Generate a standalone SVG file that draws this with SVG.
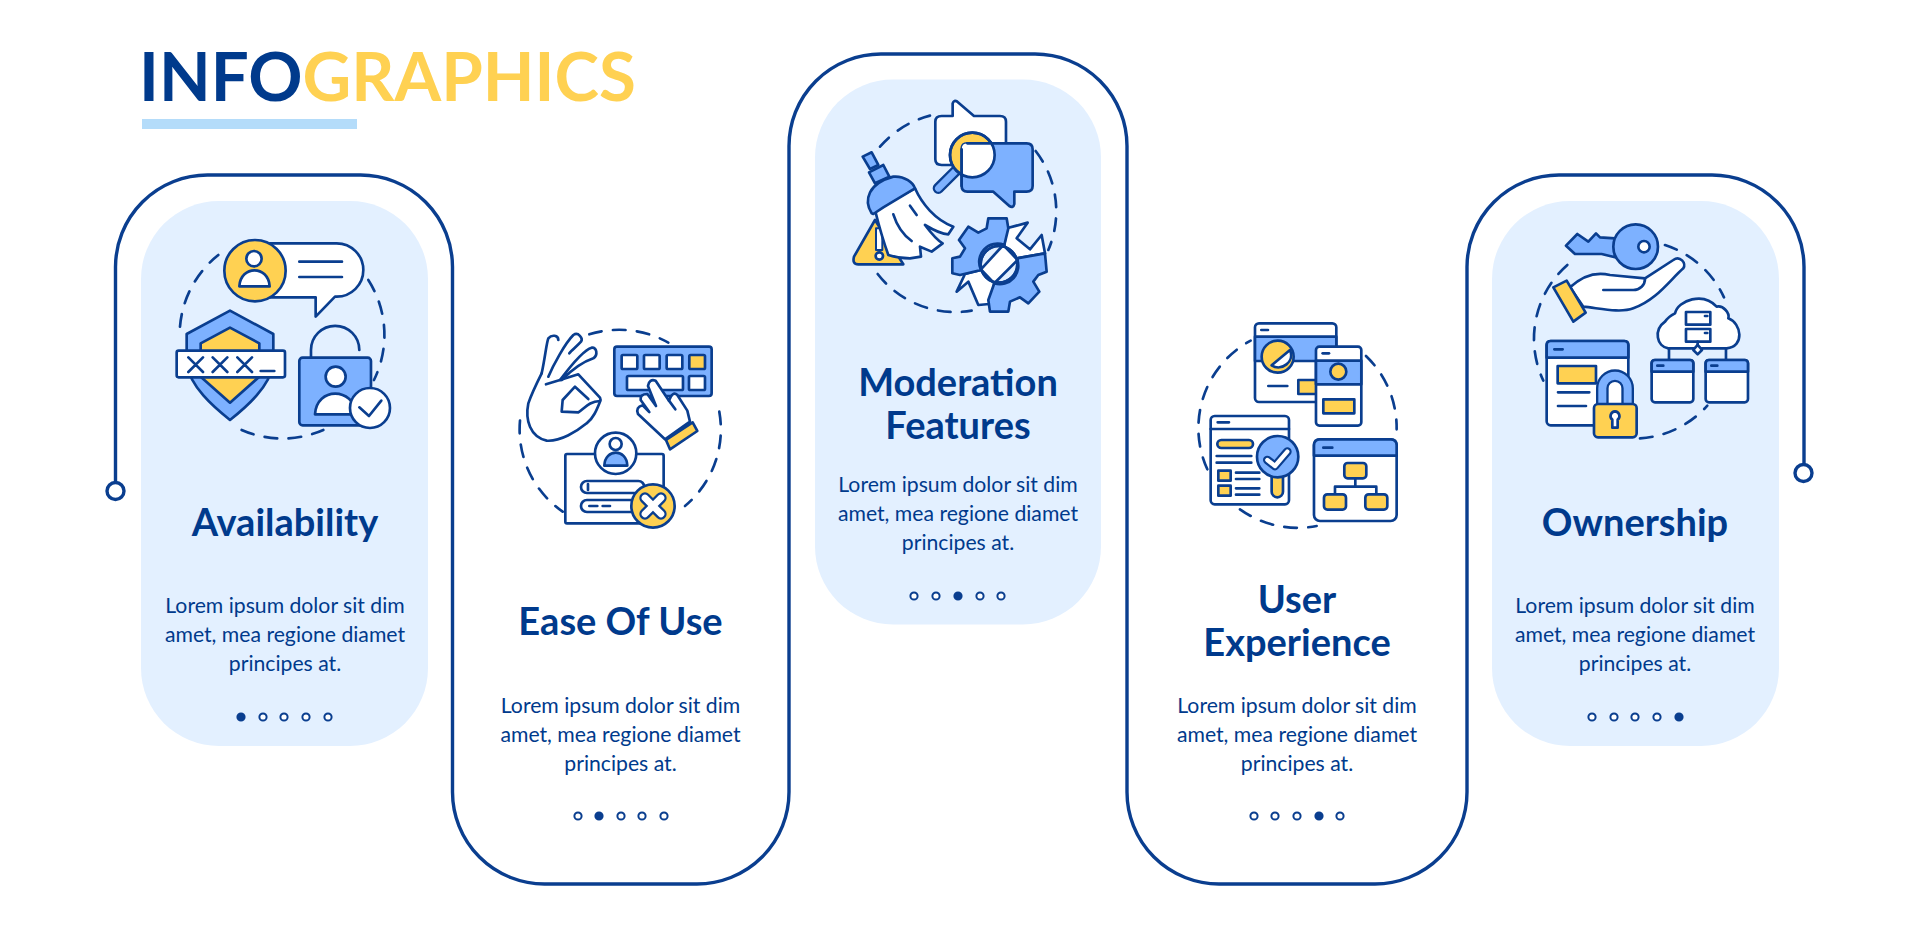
<svg xmlns="http://www.w3.org/2000/svg" width="1920" height="937" viewBox="0 0 1920 937">
<style>
text{font-family:Lato,"Noto Sans","Liberation Sans",sans-serif}
.t{font-size:38px;font-weight:700;fill:#003a8c;text-anchor:middle}
.b{font-size:21.2px;fill:#003a8c;text-anchor:middle}
.panel{fill:#e3f0ff}
.i *{stroke:#0a3e8f;stroke-width:8;stroke-linejoin:round;stroke-linecap:round}
.i .n{fill:none}.i .w{fill:#fff}.i .y{fill:#ffd152}.i .u{fill:#7db1ff}.i .l{fill:#e3f0ff}
.i .d{fill:none;stroke-dasharray:38 34;stroke-linecap:round}
.dot{fill:#fff;stroke:#0a3e8f;stroke-width:2}
.on{fill:#0a3e8f}
.ln{fill:none;stroke:#0a3e8f;stroke-width:3.4}
</style>
<defs>
<clipPath id="c3"><path d="M412,190H590Q608,190 608,208V318Q608,335 590,335H553V372Q550,385 538,378L490,335H412Q395,335 395,318V208Q395,190 412,190Z"/></clipPath>
</defs>
<rect width="1920" height="937" fill="#fff"/>

<g id="title">
<text x="139" y="101" font-size="67.2" font-weight="700" fill="#003a8c">INFO<tspan fill="#ffd152">GRAPHICS</tspan></text>
<rect x="142" y="119" width="215" height="10" fill="#b4dcfa"/>
</g>

<g id="connectors">
<path class="ln" d="M115.5,484V267A92,92 0 0 1 207.5,175H360.5A92,92 0 0 1 452.5,267V792A92,92 0 0 0 544.5,884H697A92,92 0 0 0 789,792V146A92,92 0 0 1 881,54H1035A92,92 0 0 1 1127,146V792A92,92 0 0 0 1219,884H1375A92,92 0 0 0 1467,792V267A92,92 0 0 1 1559,175H1712A92,92 0 0 1 1804,267V464"/>
<circle cx="115.5" cy="491" r="8.5" fill="#fff" stroke="#0a3e8f" stroke-width="3.4"/>
<circle cx="1803.5" cy="473" r="8.5" fill="#fff" stroke="#0a3e8f" stroke-width="3.4"/>
</g>

<g id="card-availability">
<rect class="panel" x="141" y="201" width="287" height="545" rx="78"/>
<g class="i" transform="translate(170 230) scale(.3333)">
<path class="d" d="M30,290A306,306 0 0 1 145,75"/>
<path class="d" d="M595,150A306,306 0 0 1 612,450"/>
<path class="d" d="M215,600A306,306 0 0 0 460,600"/>
<path class="w" d="M300,40H500A80,80 0 0 1 500,200H495L437,260V202H300Z"/>
<circle class="y" cx="255" cy="122" r="92"/>
<circle class="w" cx="252" cy="86" r="23"/>
<path class="w" d="M208,169C212,105 295,105 299,169Z"/>
<path class="n" d="M388,95H516M388,141H516"/>
<path class="u" d="M180,242L310,312V400C300,470 230,530 180,570C130,530 60,470 50,400V312Z"/>
<path class="y" d="M180,293L268,340V440L180,518L92,440V340Z"/>
<rect class="w" x="20" y="362" width="325" height="80" rx="6"/>
<path class="n" d="M55,382L99,426M99,382L55,426M128,382L172,426M172,382L128,426M202,382L246,426M246,382L202,426M272,423H313"/>
<path class="n" d="M423,382V360A72,72 0 0 1 568,360"/>
<rect class="u" x="388" y="383" width="215" height="203" rx="10"/>
<circle class="w" cx="497" cy="440" r="30"/>
<path class="w" d="M435,553C440,470 550,470 560,553Z"/>
<circle class="w" cx="600" cy="534" r="60"/>
<path class="n" d="M568,532L597,558L634,512"/>
</g>
<text class="t" x="285" y="536">Availability</text>
<text class="b" x="285" y="613">Lorem ipsum dolor sit dim</text>
<text class="b" x="285" y="642">amet, mea regione diamet</text>
<text class="b" x="285" y="671">principes at.</text>
<circle class="dot on" cx="241" cy="717" r="3.6"/><circle class="dot" cx="263" cy="717" r="3.6"/><circle class="dot" cx="284" cy="717" r="3.6"/><circle class="dot" cx="306" cy="717" r="3.6"/><circle class="dot" cx="328" cy="717" r="3.6"/>
</g>

<g id="card-ease-of-use">
<g class="i" transform="translate(490 300) scale(.3333)">
<path class="d" d="M298,103A300,300 0 0 1 535,128"/>
<path class="d" d="M688,335A300,300 0 0 1 585,618"/>
<path class="d" d="M90,362A300,300 0 0 0 218,635"/>
<path class="n" d="M155,220C165,175 170,125 175,115C185,103 205,105 205,120"/>
<path class="n" d="M175,230C190,195 225,130 250,105C265,95 280,115 273,125C260,140 245,150 238,160"/>
<path class="n" d="M210,240C240,200 280,150 305,143C320,140 325,165 310,175C280,185 250,205 215,240"/>
<path class="n" d="M168,253L210,240L265,223L330,293C332,297 332,302 330,305C320,330 310,355 290,370C260,395 210,425 170,422C120,410 105,360 115,310C125,280 140,250 155,220"/>
<path class="n" d="M295,297L255,260L218,300L215,335L265,337C285,325 295,305 330,303"/>
<rect class="u" x="373" y="140" width="292" height="148" rx="8"/>
<rect class="w" x="395" y="165" width="47" height="42" rx="4"/><rect class="w" x="462" y="165" width="47" height="42" rx="4"/><rect class="w" x="530" y="165" width="47" height="42" rx="4"/><rect class="y" x="598" y="165" width="47" height="42" rx="4"/>
<rect class="w" x="411" y="228" width="168" height="42" rx="4"/><rect class="w" x="597" y="228" width="48" height="42" rx="4"/>
<path class="w" d="M525,418L444,342Q436,322 458,316L478,336L452,300Q450,282 472,282L498,318L474,258Q478,235 497,242L537,302Q548,272 562,285L592,332L600,365Z"/>
<path class="n" d="M537,302L556,328"/>
<path class="y" d="M528,420L608,367L622,393L540,448Z"/>
<rect class="w" x="226" y="462" width="295" height="208" rx="5"/>
<circle class="w" cx="377" cy="460" r="62"/>
<circle class="w" cx="377" cy="432" r="18"/>
<path class="u" d="M343,497C345,445 410,445 412,497Z"/>
<rect class="w" x="273" y="543" width="190" height="36" rx="18"/>
<rect class="w" x="273" y="600" width="190" height="36" rx="18"/>
<path class="n" d="M294,552V570M298,618H322M338,618H360"/>
<circle class="y" cx="489" cy="618" r="65"/>
<path class="n" style="stroke-width:34" d="M465,594L513,642M513,594L465,642"/>
<path class="n" style="stroke:#fff;stroke-width:20" d="M465,594L513,642M513,594L465,642"/>
</g>
<text class="t" x="620.5" y="635">Ease Of Use</text>
<text class="b" x="620.5" y="713">Lorem ipsum dolor sit dim</text>
<text class="b" x="620.5" y="742">amet, mea regione diamet</text>
<text class="b" x="620.5" y="771">principes at.</text>
<circle class="dot" cx="578" cy="816" r="3.6"/><circle class="dot on" cx="599" cy="816" r="3.6"/><circle class="dot" cx="621" cy="816" r="3.6"/><circle class="dot" cx="642" cy="816" r="3.6"/><circle class="dot" cx="664" cy="816" r="3.6"/>
</g>

<g id="card-moderation">
<rect class="panel" x="815" y="79.5" width="286" height="545" rx="78"/>
<g class="i" transform="translate(830 80) scale(.3333)">
<path class="d" d="M150,200A295,295 0 0 1 300,107"/>
<path class="d" d="M617,213A295,295 0 0 1 655,510"/>
<path class="d" d="M143,582A295,295 0 0 0 425,692"/>
<path class="w" d="M335,108H368V70Q372,58 382,65L432,108H510Q528,108 528,125V238Q528,255 510,255H335Q316,255 316,238V125Q316,108 335,108Z"/>
<path style="stroke-width:34" class="n" d="M378,272L325,325"/>
<path style="stroke:#7db1ff;stroke-width:20" class="n" d="M378,272L325,325"/>
<circle class="y" cx="427" cy="225" r="67"/>
<path class="u" d="M412,190H590Q608,190 608,208V318Q608,335 590,335H553V372Q550,385 538,378L490,335H412Q395,335 395,318V208Q395,190 412,190Z"/>
<circle cx="427" cy="225" r="67" fill="#fff" style="stroke:none" clip-path="url(#c3)"/>
<path class="n" d="M412,190H480M395,208V318"/>
<circle class="n" cx="427" cy="225" r="67"/>
<path class="y" d="M135,420L72,530Q66,553 85,553H220Z"/>
<path class="w" d="M138,445H157V510H138Z" style="stroke-width:6"/>
<circle class="w" cx="148" cy="528" r="11"/>
<path class="u" d="M98,230L125,217L145,255L120,267Z"/>
<path class="u" d="M117,277L160,255L178,290L135,310Z"/>
<path class="w" d="M135,390L255,325C275,370 315,420 370,440L355,463C335,462 310,450 285,435C300,455 320,480 338,490L305,515L270,500L273,530L240,535C210,535 190,530 175,525C155,470 145,430 135,390Z"/>
<path class="u" d="M125,400C100,360 115,310 190,290C225,287 250,310 255,325L160,382L130,402Z"/>
<path class="n" d="M240,377L260,405M190,403C200,435 220,465 245,483"/>
<path class="w" d="M530,445L593,428L560,475L600,508L635,465L645,520L560,535L493,610L478,672L445,675L415,605L380,635L405,582L453,570L523,495Z"/>
<path class="u" d="M367,535L390,530L405,505L387,480L415,440L445,458L470,445L475,415H530L535,445L523,495A55,55 0 0 0 453,570L390,585L367,580Z"/>
<path class="u" d="M560,535L645,520L650,575L625,585L610,605L628,635L595,670L570,652L540,665L535,695H480L475,660L493,610A55,55 0 0 0 560,535Z"/>
<circle class="l" cx="507" cy="553" r="55"/>
<path class="w" d="M453,568L520,495L563,540L493,610Z"/>
<circle class="n" cx="507" cy="553" r="55"/>
</g>
<text class="t" x="958" y="396">Moderation</text>
<text class="t" x="958" y="439">Features</text>
<text class="b" x="958" y="492">Lorem ipsum dolor sit dim</text>
<text class="b" x="958" y="521">amet, mea regione diamet</text>
<text class="b" x="958" y="550">principes at.</text>
<circle class="dot" cx="914" cy="596" r="3.6"/><circle class="dot" cx="936" cy="596" r="3.6"/><circle class="dot on" cx="958" cy="596" r="3.6"/><circle class="dot" cx="980" cy="596" r="3.6"/><circle class="dot" cx="1001" cy="596" r="3.6"/>
</g>

<g id="card-user-experience">
<g class="i" transform="translate(1180 300) scale(.3333)">
<path class="d" d="M82,508A298,298 0 0 1 212,122"/>
<path class="d" d="M558,168A298,298 0 0 1 650,388"/>
<path class="d" d="M180,628A298,298 0 0 0 410,678"/>
<rect class="w" x="225" y="70" width="244" height="236" rx="12"/>
<rect class="u" x="225" y="110" width="244" height="73"/>
<path class="n" d="M244,90H264M265,258H322"/>
<circle class="y" cx="293" cy="170" r="48"/>
<path class="w" d="M275,196L330,150C345,185 305,215 275,196Z"/>
<rect class="y" x="355" y="240" width="60" height="42"/>
<rect class="w" x="408" y="140" width="136" height="237" rx="10"/>
<rect class="u" x="408" y="182" width="136" height="71"/>
<path class="n" d="M428,160H447"/>
<circle class="y" cx="475" cy="215" r="24"/>
<rect class="y" x="430" y="298" width="93" height="42"/>
<rect class="w" x="92" y="348" width="235" height="265" rx="12"/>
<path class="n" d="M92,387H327M113,367H147M110,468H214M110,488H214M168,518H238M168,537H238M168,565H238M168,584H238"/>
<rect class="y" x="112" y="420" width="107" height="24" rx="12"/>
<rect class="y" x="115" y="512" width="37" height="30"/>
<rect class="y" x="115" y="557" width="37" height="30"/>
<rect class="y" x="275" y="515" width="34" height="77" rx="17"/>
<circle class="u" cx="293" cy="470" r="62"/>
<path class="n" style="stroke-width:26" d="M262,480L285,498L322,455"/>
<path class="n" style="stroke:#fff;stroke-width:13" d="M262,480L285,498L322,455"/>
<rect class="w" x="402" y="418" width="248" height="245" rx="18"/>
<path class="u" d="M420,418H632Q650,418 650,436V467H402V436Q402,418 420,418Z"/>
<path class="n" d="M430,443H457M526,535V560M465,583V560H589V583"/>
<rect class="y" x="493" y="489" width="66" height="46" rx="10"/>
<rect class="y" x="432" y="583" width="66" height="46" rx="10"/>
<rect class="y" x="556" y="583" width="66" height="46" rx="10"/>
</g>
<text class="t" x="1297" y="613">User</text>
<text class="t" x="1297" y="656">Experience</text>
<text class="b" x="1297" y="713">Lorem ipsum dolor sit dim</text>
<text class="b" x="1297" y="742">amet, mea regione diamet</text>
<text class="b" x="1297" y="771">principes at.</text>
<circle class="dot" cx="1254" cy="816" r="3.6"/><circle class="dot" cx="1275" cy="816" r="3.6"/><circle class="dot" cx="1297" cy="816" r="3.6"/><circle class="dot on" cx="1319" cy="816" r="3.6"/><circle class="dot" cx="1340" cy="816" r="3.6"/>
</g>

<g id="card-ownership">
<rect class="panel" x="1492" y="201" width="287" height="545" rx="78"/>
<g class="i" transform="translate(1520 210) scale(.3333)">
<path class="d" d="M435,105A295,295 0 0 1 612,262"/>
<path class="d" d="M142,165A295,295 0 0 0 70,512"/>
<path class="d" d="M360,685A295,295 0 0 0 562,587"/>
<path class="u" d="M285,85L240,82L228,70L205,95L172,72L138,107L165,132H245L285,142Z"/>
<circle class="u" cx="347" cy="110" r="67"/>
<circle class="w" cx="372" cy="110" r="17"/>
<path class="w" d="M150,232C190,195 230,185 270,195L375,205L460,150C480,135 500,160 490,175C450,210 410,270 340,295C300,310 240,295 190,290Z"/>
<path class="n" d="M250,240H340C360,240 375,225 375,207"/>
<path class="y" d="M100,232L140,212L197,308L160,335Z"/>
<path class="n" d="M447,415V450M618,415V450"/>
<path class="w" d="M445,415C410,410 400,360 435,335C445,320 455,315 465,310C475,270 550,245 590,290C610,285 630,310 625,325C665,340 675,410 620,415Z"/>
<rect class="w" x="498" y="306" width="73" height="38"/>
<rect class="w" x="498" y="357" width="73" height="38"/>
<path class="n" d="M555,318H562M555,369H562M533,395V408"/>
<path class="w" d="M533,405L546,420L533,433L520,420Z"/>
<rect class="w" x="395" y="450" width="125" height="127" rx="10"/>
<path class="u" d="M405,450H510Q520,450 520,460V485H395V460Q395,450 405,450Z"/>
<rect class="w" x="557" y="450" width="127" height="127" rx="10"/>
<path class="u" d="M567,450H674Q684,450 684,460V485H557V460Q557,450 567,450Z"/>
<path class="n" d="M412,467H430M574,467H592"/>
<rect class="w" x="80" y="393" width="245" height="253" rx="12"/>
<path class="u" d="M92,393H313Q325,393 325,405V443H80V405Q80,393 92,393Z"/>
<path class="n" d="M103,418H128M114,547H208M114,588H198"/>
<rect class="y" x="113" y="468" width="115" height="52"/>
<path class="n" style="stroke-linecap:butt;stroke-width:38" d="M247,590V535A38,38 0 0 1 323,535V590"/>
<path class="n" style="stroke:#7db1ff;stroke-linecap:butt;stroke-width:24" d="M247,590V535A38,38 0 0 1 323,535V590"/>
<rect class="y" x="222" y="582" width="128" height="100" rx="12"/>
<path class="w" d="M285,604A14,14 0 0 1 293,629V653H277V629A14,14 0 0 1 285,604Z"/>
</g>
<text class="t" x="1635" y="536">Ownership</text>
<text class="b" x="1635" y="613">Lorem ipsum dolor sit dim</text>
<text class="b" x="1635" y="642">amet, mea regione diamet</text>
<text class="b" x="1635" y="671">principes at.</text>
<circle class="dot" cx="1592" cy="717" r="3.6"/><circle class="dot" cx="1614" cy="717" r="3.6"/><circle class="dot" cx="1635" cy="717" r="3.6"/><circle class="dot" cx="1657" cy="717" r="3.6"/><circle class="dot on" cx="1679" cy="717" r="3.6"/>
</g>
</svg>
